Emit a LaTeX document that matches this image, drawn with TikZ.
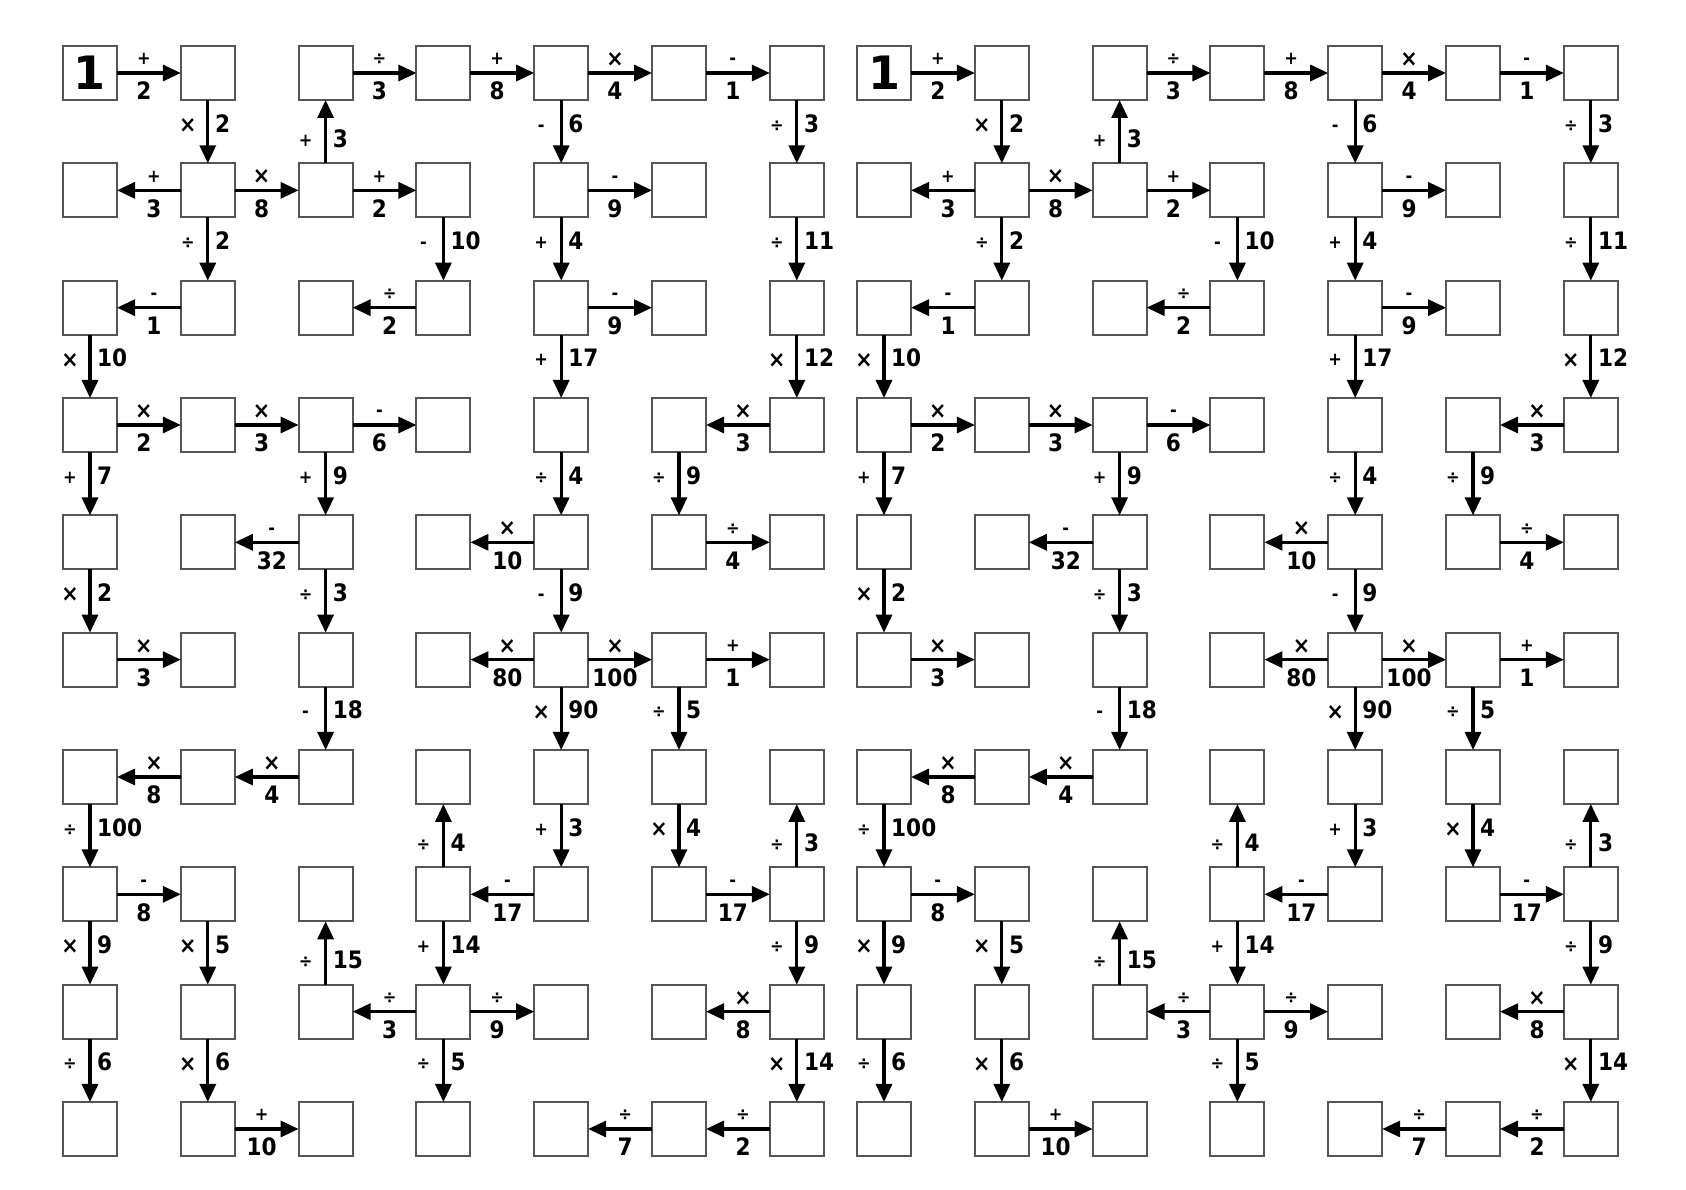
\documentclass[tikz,border=0pt]{standalone}
\usepackage{fontspec}
\setmainfont{DejaVu Sans}
\newfontfamily\labfont{DejaVu Sans Condensed Bold}
\usetikzlibrary{arrows.meta}
\definecolor{boxgray}{HTML}{555555}
\newcommand\tms{\raisebox{-1.5pt}{\fontsize{23}{23}\selectfont ×}}
\begin{document}
\begin{tikzpicture}[x=1pt,y=-1pt,
  box/.style={draw=boxgray, line width=2pt, minimum size=54pt, inner sep=0pt, outer sep=0pt, fill=white},
  arr/.style={line width=3.2pt, -{Triangle[length=18pt,width=16pt]}},
  oplab/.style={font=\labfont\fontsize{18}{18}\selectfont, inner sep=0pt, anchor=base},
  numlab/.style={font=\labfont\fontsize{24}{24}\selectfont, inner sep=0pt, anchor=base},
  numlabv/.style={font=\labfont\fontsize{24}{24}\selectfont, inner sep=0pt, anchor=base west},
  bigone/.style={font=\bfseries\fontsize{46}{46}\selectfont, inner sep=0pt}
]
\useasboundingbox[fill=white] (0,0) rectangle (1686,1190);
\foreach \pz/\ox in {L/90, R/884}{
  \foreach \cc in {0,...,6}{
    \foreach \rr in {0,...,9}{
      \node[box] (\pz-\cc-\rr) at ({\ox+117.8*\cc},{73+117.33*\rr}) {};
    }
  }
  \node[bigone] (\pz-one) at (\pz-0-0) {1};
  % horizontal connectors
  \foreach \ea/\eb/\eo/\en in {
    0-0/1-0/+/2, 2-0/3-0/÷/3, 3-0/4-0/+/8, 4-0/5-0/\tms/4, 5-0/6-0/-/1,
    1-1/0-1/+/3, 1-1/2-1/\tms/8, 2-1/3-1/+/2, 4-1/5-1/-/9,
    1-2/0-2/-/1, 3-2/2-2/÷/2, 4-2/5-2/-/9,
    0-3/1-3/\tms/2, 1-3/2-3/\tms/3, 2-3/3-3/-/6, 6-3/5-3/\tms/3,
    2-4/1-4/-/32, 4-4/3-4/\tms/10, 5-4/6-4/÷/4,
    0-5/1-5/\tms/3, 4-5/3-5/\tms/80, 4-5/5-5/\tms/100, 5-5/6-5/+/1,
    1-6/0-6/\tms/8, 2-6/1-6/\tms/4,
    0-7/1-7/-/8, 4-7/3-7/-/17, 5-7/6-7/-/17,
    3-8/2-8/÷/3, 3-8/4-8/÷/9, 6-8/5-8/\tms/8,
    1-9/2-9/+/10, 5-9/4-9/÷/7, 6-9/5-9/÷/2}{
    \draw[arr] (\pz-\ea) -- coordinate[pos=0.42] (m) (\pz-\eb);
    \node[oplab, yshift=8pt] at (m) {\eo};
    \node[numlab, yshift=-27pt] at (m) {\en};
  }
  % vertical connectors
  \foreach \ea/\eb/\eo/\en in {
    1-0/1-1/\tms/2, 2-1/2-0/+/3, 4-0/4-1/-/6, 6-0/6-1/÷/3,
    1-1/1-2/÷/2, 3-1/3-2/-/10, 4-1/4-2/+/4, 6-1/6-2/÷/11,
    0-2/0-3/\tms/10, 4-2/4-3/+/17, 6-2/6-3/\tms/12,
    0-3/0-4/+/7, 2-3/2-4/+/9, 4-3/4-4/÷/4, 5-3/5-4/÷/9,
    0-4/0-5/\tms/2, 2-4/2-5/÷/3, 4-4/4-5/-/9,
    2-5/2-6/-/18, 4-5/4-6/\tms/90, 5-5/5-6/÷/5,
    0-6/0-7/÷/100, 3-7/3-6/÷/4, 4-6/4-7/+/3, 5-6/5-7/\tms/4, 6-7/6-6/÷/3,
    0-7/0-8/\tms/9, 1-7/1-8/\tms/5, 2-8/2-7/÷/15, 3-7/3-8/+/14, 6-7/6-8/÷/9,
    0-8/0-9/÷/6, 1-8/1-9/\tms/6, 3-8/3-9/÷/5, 6-8/6-9/\tms/14}{
    \draw[arr] (\pz-\ea) -- coordinate[pos=0.38] (m) (\pz-\eb);
    \node[oplab, xshift=-20pt, yshift=-7pt] at (m) {\eo};
    \node[numlabv, xshift=7pt, yshift=-8pt] at (m) {\en};
  }
}
\end{tikzpicture}
\end{document}
